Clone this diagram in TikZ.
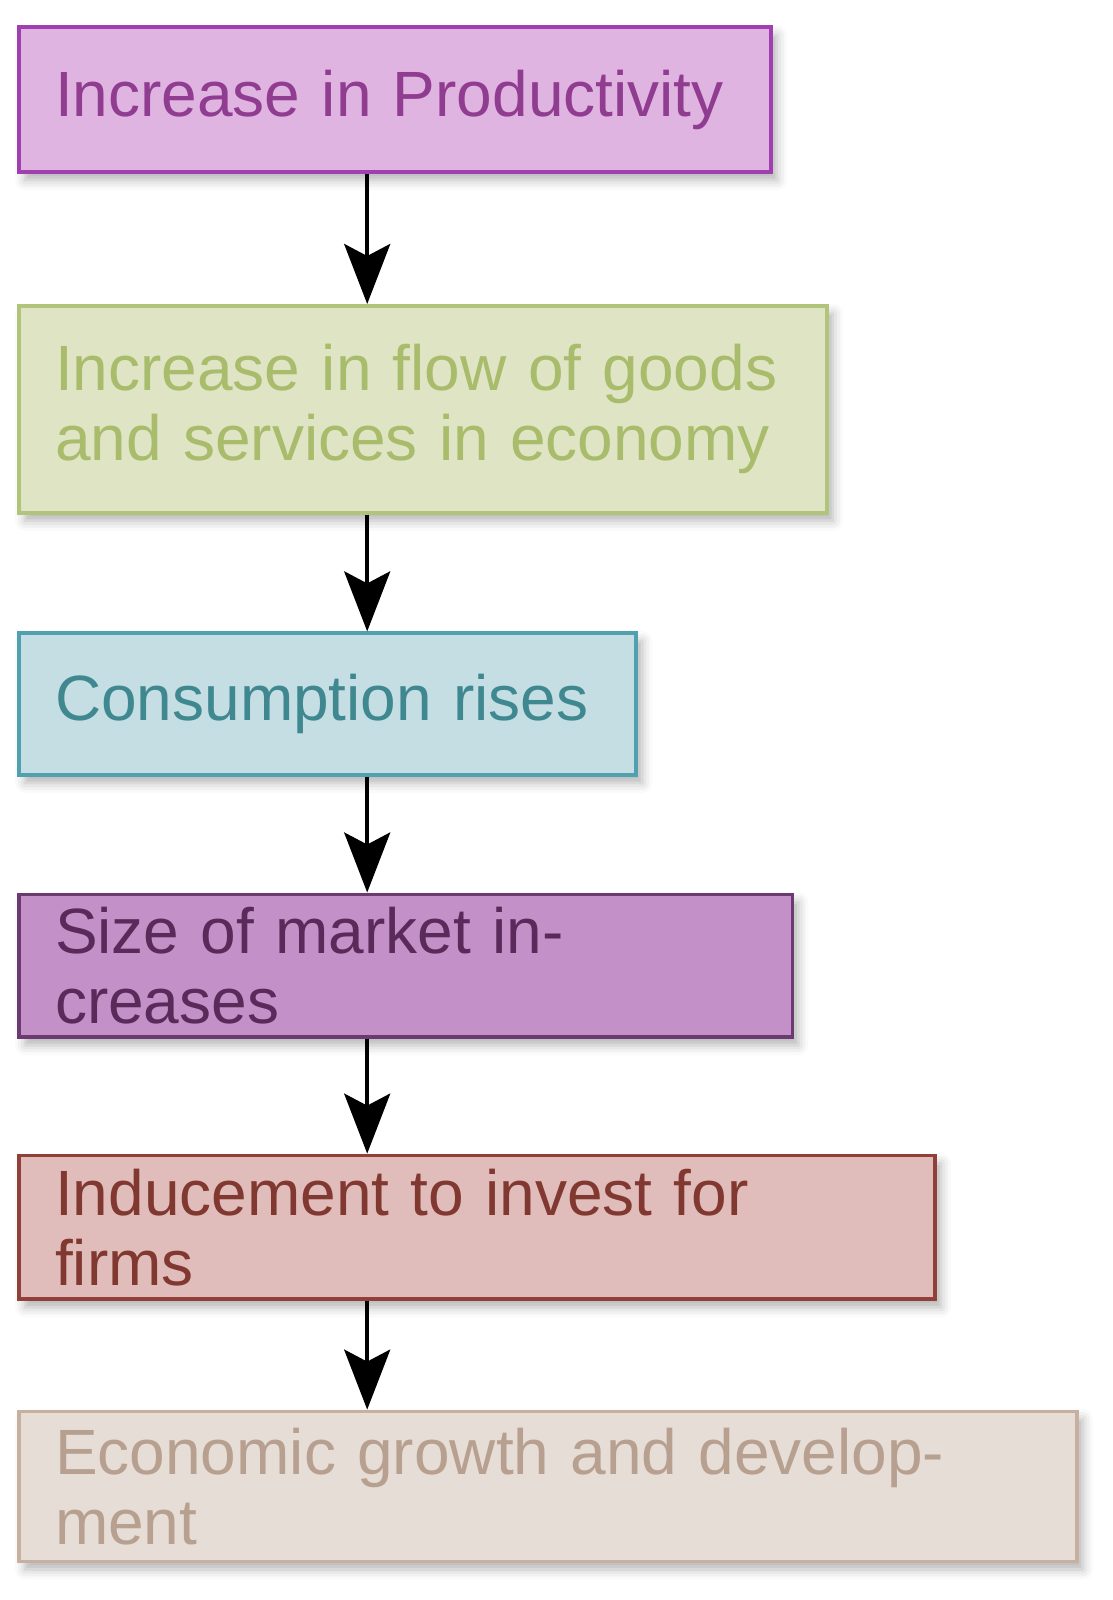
\documentclass[tikz,border=0pt]{standalone}
\usepackage{fontspec}
\setmainfont{Liberation Sans}
\usetikzlibrary{arrows.meta,shadows.blur}
\definecolor{f1}{HTML}{E0B4E0}\definecolor{d1}{HTML}{A040B0}\definecolor{t1}{HTML}{903C90}
\definecolor{f2}{HTML}{DFE5C4}\definecolor{d2}{HTML}{B0C47C}\definecolor{t2}{HTML}{A8BC6C}
\definecolor{f3}{HTML}{C4DEE3}\definecolor{d3}{HTML}{50A0B0}\definecolor{t3}{HTML}{408890}
\definecolor{f4}{HTML}{C490C8}\definecolor{d4}{HTML}{6A3A70}\definecolor{t4}{HTML}{5A2A5A}
\definecolor{f5}{HTML}{E0BCBA}\definecolor{d5}{HTML}{904038}\definecolor{t5}{HTML}{803830}
\definecolor{f6}{HTML}{E6DDD6}\definecolor{d6}{HTML}{C8B0A0}\definecolor{t6}{HTML}{B8A090}
\tikzset{box/.style={draw, line width=3.5pt, anchor=north west, align=left, inner xsep=36pt,
  font=\fontsize{64}{70}\selectfont, blur shadow={shadow xshift=6pt, shadow yshift=-8pt, shadow blur radius=10pt, shadow opacity=30}},
  arr/.style={line width=4pt, -{Stealth[length=60pt,width=46pt,inset=12pt]}}}
\begin{document}
\begin{tikzpicture}[x=1pt,y=1pt]
\useasboundingbox (0,0) rectangle (1112,-1600);
\node[box, fill=f1, draw=d1, text=t1, minimum width=751.8pt, minimum height=144.8pt, text width=679.8pt] (a) at (17.3,-25.5) {Increase in Productivity};
\node[box, fill=f2, draw=d2, text=t2, minimum width=807.9pt, minimum height=207pt, text width=735.9pt] (b) at (17.3,-304) {Increase in flow of goods\\and services in economy};
\node[box, fill=f3, draw=d3, text=t3, minimum width=617.1pt, minimum height=141.8pt, text width=545.1pt] (c) at (17.3,-631.4) {Consumption rises};
\node[box, fill=f4, draw=d4, text=t4, minimum width=773.2pt, minimum height=142.8pt, text width=701.2pt] (d) at (17.3,-892.5) {Size of market increases};
\node[box, fill=f5, draw=d5, text=t5, minimum width=916pt, minimum height=143.8pt, text width=844pt] (e) at (17.3,-1153.6) {Inducement to invest for firms};
\node[box, fill=f6, draw=d6, text=t6, minimum width=1057.8pt, minimum height=150pt, text width=985.8pt] (f) at (17.3,-1409.6) {Economic growth and development};
\foreach \p/\q in {a/b,b/c,c/d,d/e,e/f}
  \draw[arr] (\p.south -| 367.2,0) -- (\q.north -| 367.2,0);
\end{tikzpicture}
\end{document}
